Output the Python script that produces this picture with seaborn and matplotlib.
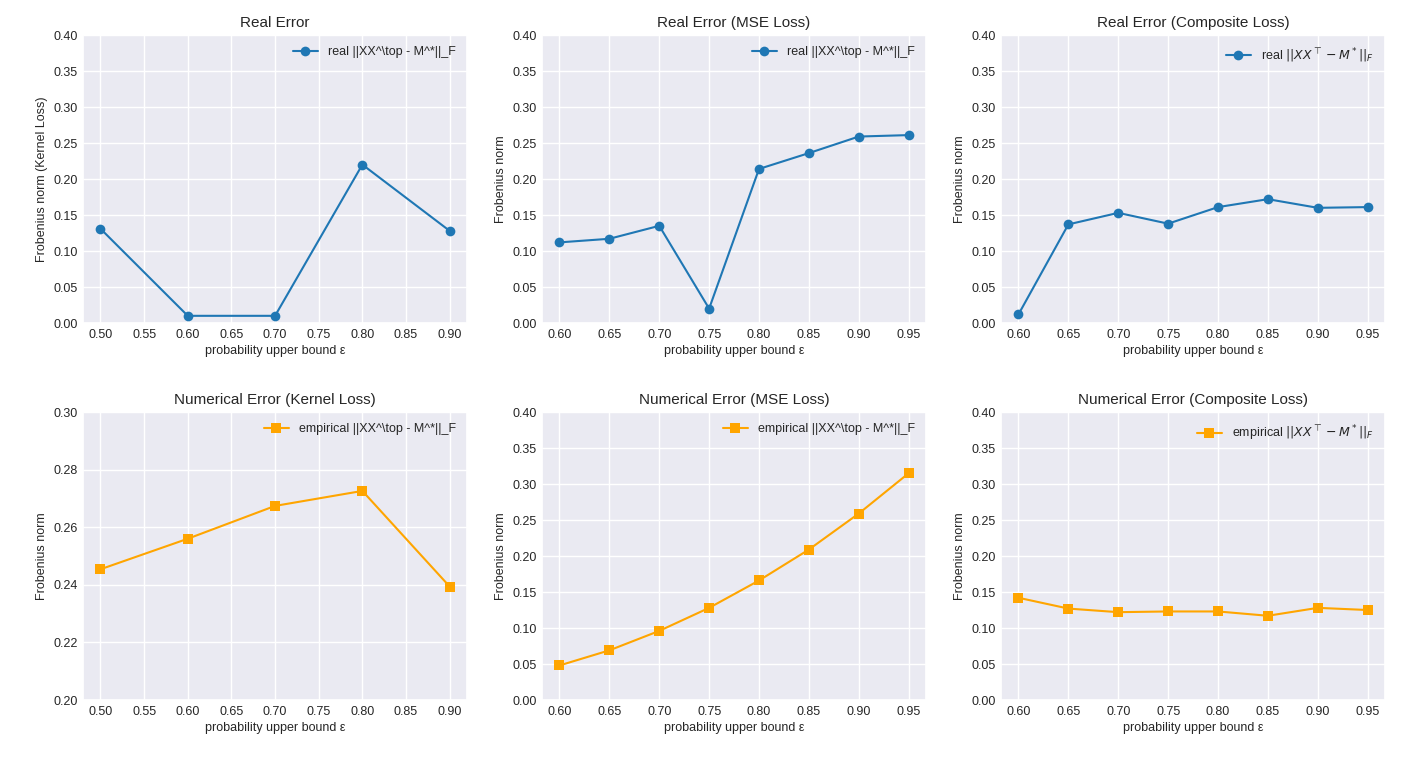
import matplotlib
matplotlib.use("Agg")
import matplotlib.pyplot as plt
import seaborn as sns
import pandas as pd

# ---- data ----
eps_kernel = [0.50, 0.60, 0.70, 0.80, 0.90]
eps_grid = [0.60, 0.65, 0.70, 0.75, 0.80, 0.85, 0.90, 0.95]

real_kernel = [0.131, 0.010, 0.010, 0.220, 0.128]
real_mse = [0.112, 0.117, 0.135, 0.020, 0.214, 0.236, 0.259, 0.261]
real_composite = [0.012, 0.137, 0.153, 0.138, 0.161, 0.172, 0.160, 0.161]

emp_kernel = [0.2454, 0.2560, 0.2674, 0.2726, 0.2394]
emp_mse = [0.048, 0.069, 0.096, 0.128, 0.166, 0.209, 0.259, 0.315]
emp_composite = [0.142, 0.127, 0.122, 0.123, 0.123, 0.117, 0.128, 0.125]

titles = ["Real Error", "Real Error (MSE Loss)", "Real Error (Composite Loss)",
          "Numerical Error (Kernel Loss)", "Numerical Error (MSE Loss)",
          "Numerical Error (Composite Loss)"]
ylabels = ["Frobenius norm (Kernel Loss)", "Frobenius norm", "Frobenius norm",
           "Frobenius norm", "Frobenius norm", "Frobenius norm"]
legend_labels = ["real ||XX^\\top - M^*||_F", "real ||XX^\\top - M^*||_F",
                 r"real $||XX^\top - M^*||_F$",
                 "empirical ||XX^\\top - M^*||_F", "empirical ||XX^\\top - M^*||_F",
                 r"empirical $||XX^\top - M^*||_F$"]
xlabel = "probability upper bound ε"
ylims = [(0, 0.4), (0, 0.4), (0, 0.4), (0.2, 0.3), (0, 0.4), (0, 0.4)]

sns.set_theme(style="darkgrid")
plt.rcParams['font.family'] = ['Liberation Sans', 'DejaVu Sans']
plt.rcParams['mathtext.fontset'] = 'dejavusans'

fig, axes = plt.subplots(2, 3, figsize=(14.24, 7.58), dpi=100)
fig.subplots_adjust(left=0.0583, right=0.9727, top=0.9538, bottom=0.0765,
                    wspace=0.195, hspace=0.309)

series = [(eps_kernel, real_kernel), (eps_grid, real_mse), (eps_grid, real_composite),
          (eps_kernel, emp_kernel), (eps_grid, emp_mse), (eps_grid, emp_composite)]

for i, ax in enumerate(axes.flat):
    xs, ys = series[i]
    df = pd.DataFrame({"eps": xs, "val": ys})
    real = i < 3
    sns.lineplot(data=df, x="eps", y="val", ax=ax,
                 color="#1f77b4" if real else "orange",
                 marker="o" if real else "s", markersize=7,
                 markeredgewidth=0, linewidth=1.5, label=legend_labels[i])
    ax.set_ylim(*ylims[i])
    ax.set_title(titles[i], fontsize=11, pad=6)
    ax.set_xlabel(xlabel, fontsize=9, labelpad=3)
    ax.set_ylabel(ylabels[i], fontsize=9, labelpad=4)
    ax.tick_params(labelsize=9, length=0, pad=4)
    if ylims[i][0] == 0.2:
        ax.set_yticks([0.20, 0.22, 0.24, 0.26, 0.28, 0.30])
    ax.legend(loc="upper right", frameon=False, fontsize=9)

fig.savefig("out.png", dpi=100)
